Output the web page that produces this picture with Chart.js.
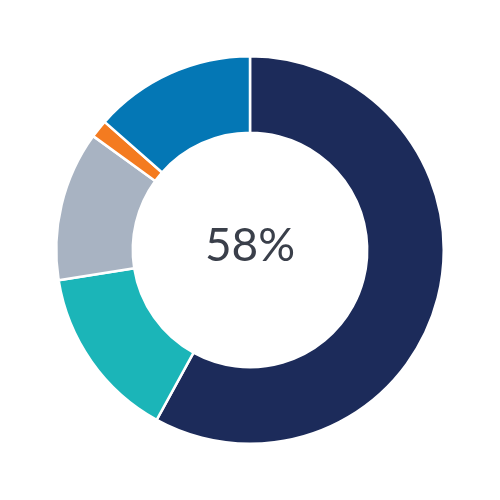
<!DOCTYPE html>
<html>
<head>
<meta charset="utf-8">
<script src="https://cdn.jsdelivr.net/npm/chart.js@4"></script>
<style>
  html, body { margin: 0; padding: 0; background: #fff; }
  #wrap { width: 500px; height: 500px; }
</style>
</head>
<body>
<div id="wrap"><canvas id="myChart"></canvas></div>
<script>
// segment values, clockwise from the top
const labels = ["A", "B", "C", "D", "E"];
const values = [58, 14.5, 12.5, 1.5, 13.5];
const colors = ["#1c2b5a", "#1bb5b8", "#a8b3c2", "#f47b20", "#0477b5"];
const centerText = "58%";

const centerLabel = {
  id: "centerLabel",
  afterDraw(chart) {
    const ctx = chart.ctx;
    const meta = chart.getDatasetMeta(0).data[0];
    ctx.save();
    ctx.font = "46px Lato";
    ctx.fillStyle = "#3a3f4a";
    ctx.textAlign = "center";
    ctx.textBaseline = "middle";
    ctx.fillText(centerText, meta.x, meta.y - 4);
    ctx.restore();
  },
};

new Chart(document.getElementById("myChart"), {
  type: "doughnut",
  data: {
    labels: labels,
    datasets: [
      {
        data: values,
        backgroundColor: colors,
        borderColor: "#fff",
        borderWidth: 2.5,
      },
    ],
  },
  options: {
    responsive: true,
    maintainAspectRatio: false,
    animation: false,
    cutout: "60.5%",
    layout: { padding: 55 },
    plugins: {
      legend: { display: false },
      tooltip: { enabled: false },
    },
  },
  plugins: [centerLabel],
});
</script>
</body>
</html>
